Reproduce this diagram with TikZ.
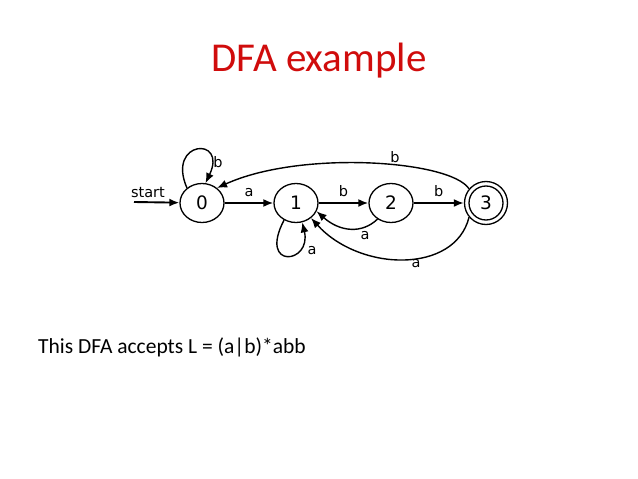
\documentclass[tikz,border=0pt]{standalone}
\usepackage{fontspec}
\setmainfont{Carlito}
\newfontfamily\diagfont{DejaVu Sans}
\usetikzlibrary{arrows.meta,shapes.geometric}
\definecolor{titlered}{RGB}{208,12,12}
\begin{document}
\begin{tikzpicture}[x=1pt,y=-1pt,
  state/.style={draw, ellipse, minimum width=44pt, minimum height=39pt, inner sep=0pt, line width=1.3pt, font=\diagfont\fontsize{18.5}{20}\selectfont},
  acc/.style={draw, circle, minimum size=43pt, inner sep=0pt, line width=1.3pt, font=\diagfont\fontsize{18.5}{20}\selectfont},
  lbl/.style={font=\diagfont\fontsize{14.5}{16}\selectfont, inner sep=0pt},
  edge/.style={line width=1.9pt, -{Latex[length=10pt,width=8pt]}},
  cedge/.style={line width=1.4pt, -{Latex[length=10pt,width=8pt]}}
]
\useasboundingbox[fill=white] (0,0) rectangle (638,479);
\node[font=\fontsize{41}{48}\selectfont, text=titlered, anchor=base] (title) at (319,71) {DFA example};
\node[font=\fontsize{21.5}{26}\selectfont, anchor=base west, inner sep=0pt] (body) at (38,353) {This DFA accepts L = (a|b)*abb};

\node[state] (n0) at (202,203) {0};
\node[state] (n1) at (296,203) {1};
\node[state] (n2) at (391,203) {2};
\node[acc] (n3) at (486,203) {3};
\draw[line width=1.3pt] (n3.center) circle (17);

\coordinate (s) at (134,202);
\node[lbl, anchor=base] (startlbl) at (148,197) {start};
\draw[edge] (s) -- (n0);
\draw[edge] (n0) -- node[lbl, above=5pt] {a} (n1);
\draw[edge] (n1) -- node[lbl, above=5pt] {b} (n2);
\draw[edge] (n2) -- node[lbl, above=5pt] {b} (n3);

\draw[cedge] (n0.135) .. controls (166,140) and (228,136) .. (n0.80);
\node[lbl] (l0) at (218,162) {b};
\draw[cedge] (n1.235) .. controls (258,270) and (312,264) .. (n1.288);
\node[lbl] (l1) at (312,251) {a};
\draw[cedge] (n2.230) .. controls (362,234) and (340,232) .. (n1.-22);
\node[lbl] (l2) at (365,236) {a};
\draw[cedge] (n3.220) .. controls (455,274) and (360,272) .. (n1.-45);
\node[lbl] (l3) at (416,264) {a};
\draw[cedge] (n3.140) .. controls (450,160) and (300,150) .. (n0.45);
\node[lbl] (l4) at (395,157) {b};
\end{tikzpicture}
\end{document}
